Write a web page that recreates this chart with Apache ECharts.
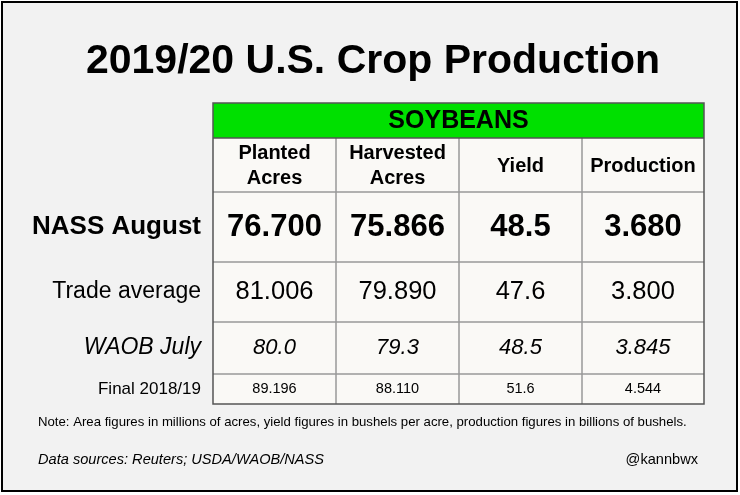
<!DOCTYPE html>
<html>
<head>
<meta charset="utf-8">
<script src="https://cdn.jsdelivr.net/npm/echarts@6/dist/echarts.min.js"></script>
<style>html,body{margin:0;padding:0;background:#fff}#chart{width:740px;height:495px}</style>
</head>
<body>
<div id="chart"></div>
<script>
var title = '2019/20 U.S. Crop Production';
var crop = 'SOYBEANS';
var columns = ['Planted\nAcres', 'Harvested\nAcres', 'Yield', 'Production'];
var rowLabels = ['NASS August', 'Trade average', 'WAOB July', 'Final 2018/19'];
var nassAugust = ['76.700', '75.866', '48.5', '3.680'];
var tradeAverage = ['81.006', '79.890', '47.6', '3.800'];
var waobJuly = ['80.0', '79.3', '48.5', '3.845'];
var final1819 = ['89.196', '88.110', '51.6', '4.544'];
var note = 'Note: Area figures in millions of acres, yield figures in bushels per acre, production figures in billions of bushels.';
var sources = 'Data sources: Reuters; USDA/WAOB/NASS';
var handle = '@kannbwx';

var rows = [nassAugust, tradeAverage, waobJuly, final1819];
// row styles: font size, weight, style
var rowFont = [
  { size: 31, weight: 'bold', style: 'normal', label: 26 },
  { size: 25.5, weight: 'normal', style: 'normal', label: 23 },
  { size: 22, weight: 'normal', style: 'italic', label: 23 },
  { size: 14.5, weight: 'normal', style: 'normal', label: 17 }
];

var colX = [213, 336, 459, 582, 704];
var rowY = [138, 192, 262, 322, 374, 404];
var headTop = 103;
var ff = 'Liberation Sans, Arial, sans-serif';

var g = [];
g.push({ type: 'rect', shape: { x: 2, y: 2, width: 735, height: 489 }, style: { fill: '#f2f2f2', stroke: '#000', lineWidth: 2 } });
g.push({ type: 'text', x: 373, y: 62, style: { text: title, font: 'bold 41px ' + ff, fill: '#000', textAlign: 'center', textVerticalAlign: 'middle' } });
// table body
g.push({ type: 'rect', shape: { x: colX[0], y: rowY[0], width: colX[4] - colX[0], height: rowY[5] - rowY[0] }, style: { fill: '#faf9f6' } });
g.push({ type: 'rect', shape: { x: colX[0], y: headTop, width: colX[4] - colX[0], height: rowY[0] - headTop }, style: { fill: '#00e000' } });
g.push({ type: 'text', x: (colX[0] + colX[4]) / 2, y: (headTop + rowY[0]) / 2 + 1, style: { text: crop, font: 'bold 25px ' + ff, fill: '#000', textAlign: 'center', textVerticalAlign: 'middle' } });
for (var i = 1; i < colX.length - 1; i++) {
  g.push({ type: 'line', shape: { x1: colX[i], y1: rowY[0], x2: colX[i], y2: rowY[5] }, style: { stroke: '#999', lineWidth: 1.5 } });
}
for (var j = 1; j < rowY.length - 1; j++) {
  g.push({ type: 'line', shape: { x1: colX[0], y1: rowY[j], x2: colX[4], y2: rowY[j] }, style: { stroke: '#999', lineWidth: 1.5 } });
}
g.push({ type: 'line', shape: { x1: colX[0], y1: rowY[0], x2: colX[4], y2: rowY[0] }, style: { stroke: '#555', lineWidth: 1.5 } });
g.push({ type: 'rect', shape: { x: colX[0], y: headTop, width: colX[4] - colX[0], height: rowY[5] - headTop }, style: { fill: 'none', stroke: '#555', lineWidth: 1.5 } });
columns.forEach(function (c, k) {
  g.push({ type: 'text', x: (colX[k] + colX[k + 1]) / 2, y: (rowY[0] + rowY[1]) / 2 + 1, style: { text: c, font: 'bold 20px ' + ff, lineHeight: 25, fill: '#000', textAlign: 'center', textVerticalAlign: 'middle' } });
});
rows.forEach(function (r, ri) {
  var f = rowFont[ri];
  var cy = (rowY[ri + 1] + rowY[ri + 2]) / 2;
  g.push({ type: 'text', x: 201, y: cy, style: { text: rowLabels[ri], font: f.style + ' ' + f.weight + ' ' + f.label + 'px ' + ff, fill: '#000', textAlign: 'right', textVerticalAlign: 'middle' } });
  r.forEach(function (v, k) {
    g.push({ type: 'text', x: (colX[k] + colX[k + 1]) / 2, y: cy, style: { text: v, font: f.style + ' ' + f.weight + ' ' + f.size + 'px ' + ff, fill: '#000', textAlign: 'center', textVerticalAlign: 'middle' } });
  });
});
g.push({ type: 'text', x: 38, y: 422, style: { text: note, font: '13.2px ' + ff, fill: '#000', textVerticalAlign: 'middle' } });
g.push({ type: 'text', x: 38, y: 460, style: { text: sources, font: 'italic 14.6px ' + ff, fill: '#000', textVerticalAlign: 'middle' } });
g.push({ type: 'text', x: 698, y: 460, style: { text: handle, font: '14.6px ' + ff, fill: '#000', textAlign: 'right', textVerticalAlign: 'middle' } });

var chart = echarts.init(document.getElementById('chart'));
chart.setOption({ animation: false, graphic: { elements: g } });
</script>
</body>
</html>
